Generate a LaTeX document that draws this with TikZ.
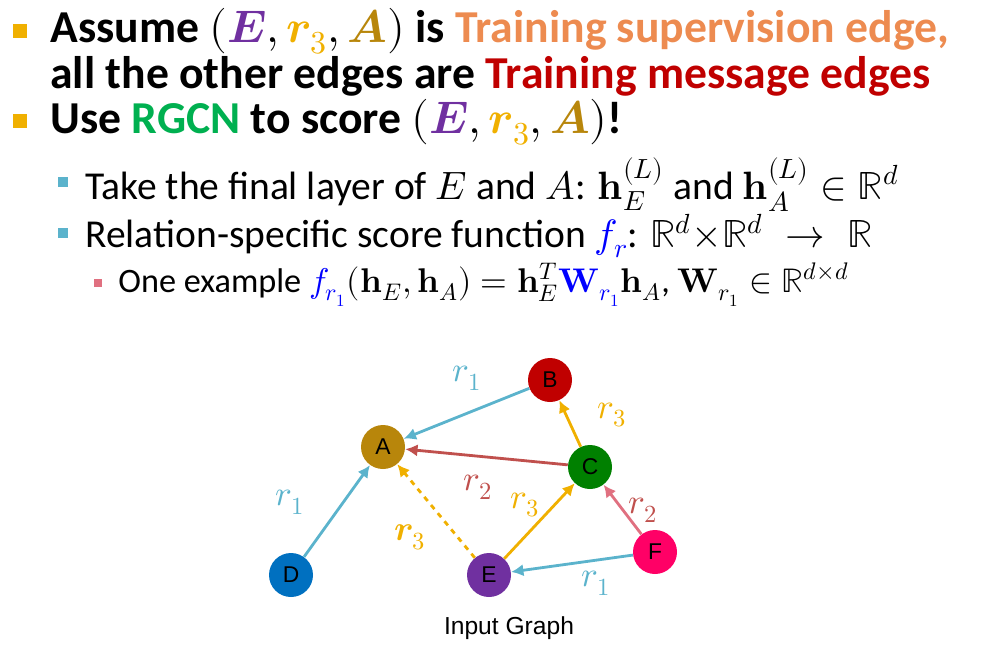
\documentclass[tikz,border=0pt]{standalone}
\usepackage{amsmath,amssymb}
\usepackage{fontspec}
\setmainfont{Carlito}
\usepackage{unicode-math}
\setmathfont{Latin Modern Math}
\usetikzlibrary{arrows.meta}
\definecolor{orng}{HTML}{ED8B50}
\definecolor{dred}{HTML}{C00000}
\definecolor{grn}{HTML}{00B050}
\definecolor{cyn}{HTML}{5BB3CC}
\definecolor{gold}{HTML}{F0B000}
\definecolor{rr}{HTML}{C0504D}
\definecolor{pk}{HTML}{E07080}
\definecolor{purp}{HTML}{7030A0}
\definecolor{nA}{HTML}{B8860B}
\definecolor{nB}{HTML}{C00000}
\definecolor{nC}{HTML}{008000}
\definecolor{nD}{HTML}{0070C0}
\definecolor{nE}{HTML}{7030A0}
\definecolor{nF}{HTML}{FF0066}
\begin{document}
\begin{tikzpicture}[x=0.02cm,y=-0.02cm,
  gn/.style={circle,minimum size=0.88cm,inner sep=0,font=\fontsize{13}{13}\selectfont\fontspec{Liberation Sans}},
  ed/.style={line width=1.6pt,-{Latex[length=7pt,width=7pt]}},
  lab/.style={font=\fontsize{20}{20}\selectfont},
  big/.style={anchor=west,font=\fontsize{26}{28}\selectfont\bfseries,inner sep=0},
  mid/.style={anchor=west,font=\fontsize{22.5}{24}\selectfont,inner sep=0},
  sml/.style={anchor=west,font=\fontsize{19.5}{22}\selectfont,inner sep=0}]
\useasboundingbox (0,0) rectangle (982,656);
% bullets
\fill[gold] (13,24) rectangle (27,38);
\fill[gold] (13,114) rectangle (27,128);
\fill[cyn] (58,177) rectangle (68,187);
\fill[cyn] (58,228) rectangle (68,238);
\fill[pk] (94,279) rectangle (102,287);
\node[big] (t1) at (50,31) {Assume $(\symbfit{\color{purp}E},\symbfit{\color{gold}r_3},\symbfit{\color{nA}A})$ is \textcolor{orng}{Training supervision edge,}};
\node[big] (t2) at (50,76) {all the other edges are \textcolor{dred}{Training message edges}};
\node[big] (t3) at (50,122) {Use \textcolor{grn}{RGCN} to score $(\symbfit{\color{purp}E},\symbfit{\color{gold}r_3},\symbfit{\color{nA}A})$!};
\node[mid] (t4) at (85,185) {Take the final layer of $E$ and $A$: $\symbf{h}_E^{(L)}$ and $\symbf{h}_A^{(L)}\in\mathbb{R}^d$};
\node[mid] (t5) at (85,236) {Relation-specific score function ${\color{blue}f_r}$: $\mathbb{R}^d{\times}\mathbb{R}^d\;\rightarrow\;\mathbb{R}$};
\node[sml] (t6) at (118,285) {One example ${\color{blue}f_{r_1}}(\symbf{h}_E,\symbf{h}_A)=\symbf{h}_E^T{\color{blue}\symbf{W}_{r_1}}\symbf{h}_A$, $\symbf{W}_{r_1}\in\mathbb{R}^{d\times d}$};
% graph
\node[gn,fill=nA] (A) at (383,447) {A};
\node[gn,fill=nB] (B) at (550,380) {B};
\node[gn,fill=nC] (C) at (590,467) {C};
\node[gn,fill=nD] (D) at (291,575) {D};
\node[gn,fill=nE] (E) at (489,575) {E};
\node[gn,fill=nF] (F) at (655,552) {F};
\draw[ed,cyn] (B) -- (A);
\draw[ed,gold] (C) -- (B);
\draw[ed,rr] (C) -- (A);
\draw[ed,gold,dashed] (E) -- (A);
\draw[ed,gold] (E) -- (C);
\draw[ed,pk] (F) -- (C);
\draw[ed,cyn] (F) -- (E);
\draw[ed,cyn] (D) -- (A);
\node[lab,cyn] (l1) at (467,378) {$r_1$};
\node[lab,gold] (l2) at (612,415) {$r_3$};
\node[lab,rr] (l3) at (478,487) {$r_2$};
\node[lab,gold] (l4) at (410,537) {$\symbfit{r_3}$};
\node[lab,gold] (l5) at (525,505) {$r_3$};
\node[lab,rr] (l6) at (643,510) {$r_2$};
\node[lab,cyn] (l7) at (596,583) {$r_1$};
\node[lab,cyn] (l8) at (290,502) {$r_1$};
\node[font=\fontsize{14}{14}\selectfont\fontspec{Liberation Sans}] (cap) at (509,628) {Input Graph};
\end{tikzpicture}
\end{document}
